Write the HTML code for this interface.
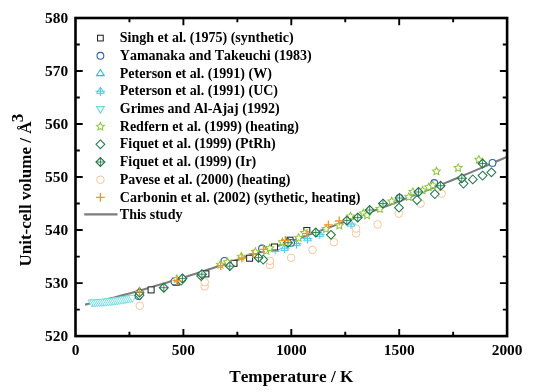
<!DOCTYPE html>
<html><head><meta charset="utf-8"><style>html,body{margin:0;padding:0;background:#fff;width:550px;height:392px;overflow:hidden}svg{display:block}</style></head>
<body>
<svg width="550" height="392" viewBox="0 0 550 392">
<rect width="550" height="392" fill="#fff"/>
<polyline points="85.1,304.62 88.64,303.8 92.18,302.97 95.72,302.12 99.25,301.26 102.79,300.38 106.33,299.5 109.87,298.6 113.41,297.68 116.95,296.76 120.49,295.82 124.03,294.87 127.56,293.91 131.1,292.94 134.64,291.96 138.18,290.97 141.72,289.97 145.26,288.96 148.8,287.93 152.33,286.9 155.87,285.86 159.41,284.81 162.95,283.76 166.49,282.69 170.03,281.61 173.57,280.53 177.11,279.44 180.64,278.34 184.18,277.24 187.72,276.13 191.26,275.01 194.8,273.88 198.34,272.75 201.88,271.61 205.41,270.46 208.95,269.31 212.49,268.15 216.03,266.99 219.57,265.82 223.11,264.64 226.65,263.46 230.18,262.28 233.72,261.09 237.26,259.89 240.8,258.7 244.34,257.49 247.88,256.28 251.42,255.07 254.96,253.85 258.49,252.63 262.03,251.4 265.57,250.17 269.11,248.94 272.65,247.7 276.19,246.46 279.73,245.21 283.26,243.97 286.8,242.71 290.34,241.46 293.88,240.2 297.42,238.93 300.96,237.67 304.5,236.4 308.04,235.12 311.57,233.85 315.11,232.57 318.65,231.28 322.19,230 325.73,228.71 329.27,227.41 332.81,226.12 336.34,224.82 339.88,223.52 343.42,222.21 346.96,220.9 350.5,219.59 354.04,218.27 357.58,216.95 361.12,215.63 364.65,214.3 368.19,212.97 371.73,211.64 375.27,210.3 378.81,208.96 382.35,207.61 385.89,206.26 389.42,204.91 392.96,203.55 396.5,202.19 400.04,200.82 403.58,199.45 407.12,198.07 410.66,196.69 414.19,195.31 417.73,193.92 421.27,192.52 424.81,191.12 428.35,189.72 431.89,188.31 435.43,186.89 438.97,185.47 442.5,184.04 446.04,182.61 449.58,181.17 453.12,179.72 456.66,178.26 460.2,176.8 463.74,175.34 467.27,173.86 470.81,172.38 474.35,170.89 477.89,169.39 481.43,167.88 484.97,166.37 488.51,164.85 492.05,163.32 495.58,161.77 499.12,160.22 502.66,158.67 506.2,157.1" fill="none" stroke="#7c7c7c" stroke-width="2.1" stroke-linejoin="round"/>
<path d="M92 307L95.9 300L88.1 300Z" fill="#fff" stroke="#6adade" stroke-width="0.9"/>
<path d="M93.83 306.93L97.73 299.93L89.93 299.93Z" fill="#fff" stroke="#6adade" stroke-width="0.9"/>
<path d="M95.66 306.85L99.56 299.85L91.76 299.85Z" fill="#fff" stroke="#6adade" stroke-width="0.9"/>
<path d="M97.49 306.75L101.39 299.75L93.59 299.75Z" fill="#fff" stroke="#6adade" stroke-width="0.9"/>
<path d="M99.32 306.64L103.22 299.64L95.42 299.64Z" fill="#fff" stroke="#6adade" stroke-width="0.9"/>
<path d="M101.15 306.51L105.05 299.51L97.25 299.51Z" fill="#fff" stroke="#6adade" stroke-width="0.9"/>
<path d="M102.98 306.37L106.88 299.37L99.08 299.37Z" fill="#fff" stroke="#6adade" stroke-width="0.9"/>
<path d="M104.81 306.22L108.71 299.22L100.91 299.22Z" fill="#fff" stroke="#6adade" stroke-width="0.9"/>
<path d="M106.64 306.05L110.54 299.05L102.74 299.05Z" fill="#fff" stroke="#6adade" stroke-width="0.9"/>
<path d="M108.47 305.87L112.37 298.87L104.57 298.87Z" fill="#fff" stroke="#6adade" stroke-width="0.9"/>
<path d="M110.3 305.68L114.2 298.68L106.4 298.68Z" fill="#fff" stroke="#6adade" stroke-width="0.9"/>
<path d="M112.13 305.47L116.03 298.47L108.23 298.47Z" fill="#fff" stroke="#6adade" stroke-width="0.9"/>
<path d="M113.96 305.25L117.86 298.25L110.06 298.25Z" fill="#fff" stroke="#6adade" stroke-width="0.9"/>
<path d="M115.79 305.01L119.69 298.01L111.89 298.01Z" fill="#fff" stroke="#6adade" stroke-width="0.9"/>
<path d="M117.62 304.76L121.52 297.76L113.72 297.76Z" fill="#fff" stroke="#6adade" stroke-width="0.9"/>
<path d="M119.45 304.5L123.35 297.5L115.55 297.5Z" fill="#fff" stroke="#6adade" stroke-width="0.9"/>
<path d="M121.28 304.22L125.18 297.22L117.38 297.22Z" fill="#fff" stroke="#6adade" stroke-width="0.9"/>
<path d="M123.11 303.93L127.01 296.93L119.21 296.93Z" fill="#fff" stroke="#6adade" stroke-width="0.9"/>
<path d="M124.94 303.63L128.84 296.63L121.04 296.63Z" fill="#fff" stroke="#6adade" stroke-width="0.9"/>
<path d="M126.77 303.31L130.67 296.31L122.87 296.31Z" fill="#fff" stroke="#6adade" stroke-width="0.9"/>
<path d="M128.6 302.98L132.5 295.98L124.7 295.98Z" fill="#fff" stroke="#6adade" stroke-width="0.9"/>
<path d="M130.43 302.63L134.33 295.63L126.53 295.63Z" fill="#fff" stroke="#6adade" stroke-width="0.9"/>
<path d="M132.26 302.27L136.16 295.27L128.36 295.27Z" fill="#fff" stroke="#6adade" stroke-width="0.9"/>
<circle cx="139.8" cy="305.8" r="3.8" fill="#fff" stroke="#f8c59c" stroke-width="1.0"/>
<circle cx="204.7" cy="286.4" r="3.8" fill="#fff" stroke="#f8c59c" stroke-width="1.0"/>
<circle cx="204.7" cy="282.2" r="3.8" fill="#fff" stroke="#f8c59c" stroke-width="1.0"/>
<circle cx="270" cy="265" r="3.8" fill="#fff" stroke="#f8c59c" stroke-width="1.0"/>
<circle cx="270" cy="260.8" r="3.8" fill="#fff" stroke="#f8c59c" stroke-width="1.0"/>
<circle cx="291.1" cy="257.7" r="3.8" fill="#fff" stroke="#f8c59c" stroke-width="1.0"/>
<circle cx="312.5" cy="249.9" r="3.8" fill="#fff" stroke="#f8c59c" stroke-width="1.0"/>
<circle cx="334" cy="242.2" r="3.8" fill="#fff" stroke="#f8c59c" stroke-width="1.0"/>
<circle cx="356.1" cy="233.4" r="3.8" fill="#fff" stroke="#f8c59c" stroke-width="1.0"/>
<circle cx="356.1" cy="228.6" r="3.8" fill="#fff" stroke="#f8c59c" stroke-width="1.0"/>
<circle cx="377.6" cy="224.4" r="3.8" fill="#fff" stroke="#f8c59c" stroke-width="1.0"/>
<circle cx="398.8" cy="213.6" r="3.8" fill="#fff" stroke="#f8c59c" stroke-width="1.0"/>
<circle cx="420.6" cy="203.6" r="3.8" fill="#fff" stroke="#f8c59c" stroke-width="1.0"/>
<circle cx="441.6" cy="193.6" r="3.8" fill="#fff" stroke="#f8c59c" stroke-width="1.0"/>
<path d="M139.5 287.3L143.4 293.4L135.6 293.4Z" fill="#fff" stroke="#1ebdee" stroke-width="1.05" stroke-linejoin="miter"/>
<path d="M263 245L266.9 251.1L259.1 251.1Z" fill="#fff" stroke="#1ebdee" stroke-width="1.05" stroke-linejoin="miter"/>
<path d="M275.2 245.5L279.1 251.6L271.3 251.6Z" fill="#fff" stroke="#45c8f2" stroke-width="1.0" stroke-linejoin="miter"/><path d="M270.3 249.5H280.1M275.2 245.5V254.4" fill="none" stroke="#45c8f2" stroke-width="1.0"/>
<path d="M284.6 244.2L288.5 250.3L280.7 250.3Z" fill="#fff" stroke="#45c8f2" stroke-width="1.0" stroke-linejoin="miter"/><path d="M279.7 248.2H289.5M284.6 244.2V253.1" fill="none" stroke="#45c8f2" stroke-width="1.0"/>
<path d="M296.5 239.6L300.4 245.7L292.6 245.7Z" fill="#fff" stroke="#45c8f2" stroke-width="1.0" stroke-linejoin="miter"/><path d="M291.6 243.6H301.4M296.5 239.6V248.5" fill="none" stroke="#45c8f2" stroke-width="1.0"/>
<path d="M307.5 234.7L311.4 240.8L303.6 240.8Z" fill="#fff" stroke="#45c8f2" stroke-width="1.0" stroke-linejoin="miter"/><path d="M302.6 238.7H312.4M307.5 234.7V243.6" fill="none" stroke="#45c8f2" stroke-width="1.0"/>
<path d="M319.8 230.2L323.7 236.3L315.9 236.3Z" fill="#fff" stroke="#45c8f2" stroke-width="1.0" stroke-linejoin="miter"/><path d="M314.9 234.2H324.7M319.8 230.2V239.1" fill="none" stroke="#45c8f2" stroke-width="1.0"/>
<path d="M351 220L354.9 226.1L347.1 226.1Z" fill="#fff" stroke="#45c8f2" stroke-width="1.0" stroke-linejoin="miter"/><path d="M346.1 224H355.9M351 220V228.9" fill="none" stroke="#45c8f2" stroke-width="1.0"/>
<rect x="148.1" y="286.9" width="6" height="6" fill="#fff" stroke="#262626" stroke-width="1.05"/>
<rect x="173.2" y="279.2" width="6" height="6" fill="#fff" stroke="#262626" stroke-width="1.05"/>
<rect x="202.9" y="270.9" width="6" height="6" fill="#fff" stroke="#262626" stroke-width="1.05"/>
<rect x="231" y="260.3" width="6" height="6" fill="#fff" stroke="#262626" stroke-width="1.05"/>
<rect x="246.6" y="255.2" width="6" height="6" fill="#fff" stroke="#262626" stroke-width="1.05"/>
<rect x="271.5" y="244" width="6" height="6" fill="#fff" stroke="#262626" stroke-width="1.05"/>
<rect x="287" y="237.2" width="6" height="6" fill="#fff" stroke="#262626" stroke-width="1.05"/>
<rect x="303.8" y="227.5" width="6" height="6" fill="#fff" stroke="#262626" stroke-width="1.05"/>
<circle cx="138.5" cy="296" r="3.4" fill="#fff" stroke="#2c5fad" stroke-width="1.05"/>
<circle cx="174.5" cy="281.4" r="3.4" fill="#fff" stroke="#2c5fad" stroke-width="1.05"/>
<circle cx="224.5" cy="260.8" r="3.4" fill="#fff" stroke="#2c5fad" stroke-width="1.05"/>
<circle cx="262" cy="248.5" r="3.4" fill="#fff" stroke="#2c5fad" stroke-width="1.05"/>
<circle cx="291" cy="242.8" r="3.4" fill="#fff" stroke="#2c5fad" stroke-width="1.05"/>
<circle cx="399.5" cy="198" r="3.4" fill="#fff" stroke="#2c5fad" stroke-width="1.05"/>
<circle cx="434.3" cy="183" r="3.4" fill="#fff" stroke="#2c5fad" stroke-width="1.05"/>
<circle cx="492.5" cy="162.9" r="3.4" fill="#fff" stroke="#2c5fad" stroke-width="1.05"/>
<polygon points="176.8,274.9 177.98,277.38 180.7,277.73 178.7,279.62 179.21,282.32 176.8,281 174.39,282.32 174.9,279.62 172.9,277.73 175.62,277.38" fill="#fff" stroke="#8cc63f" stroke-width="1.05"/>
<polygon points="220.4,260.5 221.58,262.98 224.3,263.33 222.3,265.22 222.81,267.92 220.4,266.6 217.99,267.92 218.5,265.22 216.5,263.33 219.22,262.98" fill="#fff" stroke="#8cc63f" stroke-width="1.05"/>
<polygon points="227.5,258.1 228.68,260.58 231.4,260.93 229.4,262.82 229.91,265.52 227.5,264.2 225.09,265.52 225.6,262.82 223.6,260.93 226.32,260.58" fill="#fff" stroke="#8cc63f" stroke-width="1.05"/>
<polygon points="241.3,252.5 242.48,254.98 245.2,255.33 243.2,257.22 243.71,259.92 241.3,258.6 238.89,259.92 239.4,257.22 237.4,255.33 240.12,254.98" fill="#fff" stroke="#8cc63f" stroke-width="1.05"/>
<polygon points="255.4,247.7 256.58,250.18 259.3,250.53 257.3,252.42 257.81,255.12 255.4,253.8 252.99,255.12 253.5,252.42 251.5,250.53 254.22,250.18" fill="#fff" stroke="#8cc63f" stroke-width="1.05"/>
<polygon points="266.4,246.7 267.58,249.18 270.3,249.53 268.3,251.42 268.81,254.12 266.4,252.8 263.99,254.12 264.5,251.42 262.5,249.53 265.22,249.18" fill="#fff" stroke="#8cc63f" stroke-width="1.05"/>
<polygon points="269.8,244.1 270.98,246.58 273.7,246.93 271.7,248.82 272.21,251.52 269.8,250.2 267.39,251.52 267.9,248.82 265.9,246.93 268.62,246.58" fill="#fff" stroke="#8cc63f" stroke-width="1.05"/>
<polygon points="282.4,238.1 283.58,240.58 286.3,240.93 284.3,242.82 284.81,245.52 282.4,244.2 279.99,245.52 280.5,242.82 278.5,240.93 281.22,240.58" fill="#fff" stroke="#8cc63f" stroke-width="1.05"/>
<polygon points="298.6,233.7 299.78,236.18 302.5,236.53 300.5,238.42 301.01,241.12 298.6,239.8 296.19,241.12 296.7,238.42 294.7,236.53 297.42,236.18" fill="#fff" stroke="#8cc63f" stroke-width="1.05"/>
<polygon points="304.5,228.9 305.68,231.38 308.4,231.73 306.4,233.62 306.91,236.32 304.5,235 302.09,236.32 302.6,233.62 300.6,231.73 303.32,231.38" fill="#fff" stroke="#8cc63f" stroke-width="1.05"/>
<polygon points="326,224.9 327.18,227.38 329.9,227.73 327.9,229.62 328.41,232.32 326,231 323.59,232.32 324.1,229.62 322.1,227.73 324.82,227.38" fill="#fff" stroke="#8cc63f" stroke-width="1.05"/>
<polygon points="339.3,221.4 340.48,223.88 343.2,224.23 341.2,226.12 341.71,228.82 339.3,227.5 336.89,228.82 337.4,226.12 335.4,224.23 338.12,223.88" fill="#fff" stroke="#8cc63f" stroke-width="1.05"/>
<polygon points="350.5,212.2 351.68,214.68 354.4,215.03 352.4,216.92 352.91,219.62 350.5,218.3 348.09,219.62 348.6,216.92 346.6,215.03 349.32,214.68" fill="#fff" stroke="#8cc63f" stroke-width="1.05"/>
<polygon points="363.3,209.3 364.48,211.78 367.2,212.13 365.2,214.02 365.71,216.72 363.3,215.4 360.89,216.72 361.4,214.02 359.4,212.13 362.12,211.78" fill="#fff" stroke="#8cc63f" stroke-width="1.05"/>
<polygon points="367.1,211.3 368.28,213.78 371,214.13 369,216.02 369.51,218.72 367.1,217.4 364.69,218.72 365.2,216.02 363.2,214.13 365.92,213.78" fill="#fff" stroke="#8cc63f" stroke-width="1.05"/>
<polygon points="379.9,204.9 381.08,207.38 383.8,207.73 381.8,209.62 382.31,212.32 379.9,211 377.49,212.32 378,209.62 376,207.73 378.72,207.38" fill="#fff" stroke="#8cc63f" stroke-width="1.05"/>
<polygon points="391.7,197.2 392.88,199.68 395.6,200.03 393.6,201.92 394.11,204.62 391.7,203.3 389.29,204.62 389.8,201.92 387.8,200.03 390.52,199.68" fill="#fff" stroke="#8cc63f" stroke-width="1.05"/>
<polygon points="408.8,192.9 409.98,195.38 412.7,195.73 410.7,197.62 411.21,200.32 408.8,199 406.39,200.32 406.9,197.62 404.9,195.73 407.62,195.38" fill="#fff" stroke="#8cc63f" stroke-width="1.05"/>
<polygon points="412.9,187.9 414.08,190.38 416.8,190.73 414.8,192.62 415.31,195.32 412.9,194 410.49,195.32 411,192.62 409,190.73 411.72,190.38" fill="#fff" stroke="#8cc63f" stroke-width="1.05"/>
<polygon points="422.6,186.4 423.78,188.88 426.5,189.23 424.5,191.12 425.01,193.82 422.6,192.5 420.19,193.82 420.7,191.12 418.7,189.23 421.42,188.88" fill="#fff" stroke="#8cc63f" stroke-width="1.05"/>
<polygon points="428.7,183.1 429.88,185.58 432.6,185.93 430.6,187.82 431.11,190.52 428.7,189.2 426.29,190.52 426.8,187.82 424.8,185.93 427.52,185.58" fill="#fff" stroke="#8cc63f" stroke-width="1.05"/>
<polygon points="432.8,181.3 433.98,183.78 436.7,184.13 434.7,186.02 435.21,188.72 432.8,187.4 430.39,188.72 430.9,186.02 428.9,184.13 431.62,183.78" fill="#fff" stroke="#8cc63f" stroke-width="1.05"/>
<polygon points="436.4,167.3 437.58,169.78 440.3,170.13 438.3,172.02 438.81,174.72 436.4,173.4 433.99,174.72 434.5,172.02 432.5,170.13 435.22,169.78" fill="#fff" stroke="#8cc63f" stroke-width="1.05"/>
<polygon points="458.1,163.9 459.28,166.38 462,166.73 460,168.62 460.51,171.32 458.1,170 455.69,171.32 456.2,168.62 454.2,166.73 456.92,166.38" fill="#fff" stroke="#8cc63f" stroke-width="1.05"/>
<polygon points="478.8,155.6 479.98,158.08 482.7,158.43 480.7,160.32 481.21,163.02 478.8,161.7 476.39,163.02 476.9,160.32 474.9,158.43 477.62,158.08" fill="#fff" stroke="#8cc63f" stroke-width="1.05"/>
<path d="M139.5 290.9L143.9 295.3L139.5 299.7L135.1 295.3Z" fill="#fff" stroke="#23784f" stroke-width="1.05"/>
<path d="M181.2 276.2L185.6 280.6L181.2 285L176.8 280.6Z" fill="#fff" stroke="#23784f" stroke-width="1.05"/>
<path d="M201.2 271.6L205.6 276L201.2 280.4L196.8 276Z" fill="#fff" stroke="#23784f" stroke-width="1.05"/>
<path d="M263.2 255.2L267.6 259.6L263.2 264L258.8 259.6Z" fill="#fff" stroke="#23784f" stroke-width="1.05"/>
<path d="M331 230.4L335.4 234.8L331 239.2L326.6 234.8Z" fill="#fff" stroke="#23784f" stroke-width="1.05"/>
<path d="M399 203.3L403.4 207.7L399 212.1L394.6 207.7Z" fill="#fff" stroke="#23784f" stroke-width="1.05"/>
<path d="M417 195.6L421.4 200L417 204.4L412.6 200Z" fill="#fff" stroke="#23784f" stroke-width="1.05"/>
<path d="M434.8 189.7L439.2 194.1L434.8 198.5L430.4 194.1Z" fill="#fff" stroke="#23784f" stroke-width="1.05"/>
<path d="M463.5 179.2L467.9 183.6L463.5 188L459.1 183.6Z" fill="#fff" stroke="#23784f" stroke-width="1.05"/>
<path d="M472.8 175L477.2 179.4L472.8 183.8L468.4 179.4Z" fill="#fff" stroke="#23784f" stroke-width="1.05"/>
<path d="M482.6 171.2L487 175.6L482.6 180L478.2 175.6Z" fill="#fff" stroke="#23784f" stroke-width="1.05"/>
<path d="M491.4 167.9L495.8 172.3L491.4 176.7L487 172.3Z" fill="#fff" stroke="#23784f" stroke-width="1.05"/>
<path d="M139.5 288.2L143.9 292.6L139.5 297L135.1 292.6Z" fill="#fff" stroke="#1f7548" stroke-width="1.1500000000000001"/><path d="M135.1 292.6H143.9M139.5 288.2V297" fill="none" stroke="#1f7548" stroke-width="0.85"/>
<path d="M163.8 283.3L168.2 287.7L163.8 292.1L159.4 287.7Z" fill="#fff" stroke="#1f7548" stroke-width="1.1500000000000001"/><path d="M159.4 287.7H168.2M163.8 283.3V292.1" fill="none" stroke="#1f7548" stroke-width="0.85"/>
<path d="M182.4 274L186.8 278.4L182.4 282.8L178 278.4Z" fill="#fff" stroke="#1f7548" stroke-width="1.1500000000000001"/><path d="M178 278.4H186.8M182.4 274V282.8" fill="none" stroke="#1f7548" stroke-width="0.85"/>
<path d="M201.9 269.8L206.3 274.2L201.9 278.6L197.5 274.2Z" fill="#fff" stroke="#1f7548" stroke-width="1.1500000000000001"/><path d="M197.5 274.2H206.3M201.9 269.8V278.6" fill="none" stroke="#1f7548" stroke-width="0.85"/>
<path d="M229.8 261.7L234.2 266.1L229.8 270.5L225.4 266.1Z" fill="#fff" stroke="#1f7548" stroke-width="1.1500000000000001"/><path d="M225.4 266.1H234.2M229.8 261.7V270.5" fill="none" stroke="#1f7548" stroke-width="0.85"/>
<path d="M258.5 253.3L262.9 257.7L258.5 262.1L254.1 257.7Z" fill="#fff" stroke="#1f7548" stroke-width="1.1500000000000001"/><path d="M254.1 257.7H262.9M258.5 253.3V262.1" fill="none" stroke="#1f7548" stroke-width="0.85"/>
<path d="M288 238.3L292.4 242.7L288 247.1L283.6 242.7Z" fill="#fff" stroke="#1f7548" stroke-width="1.1500000000000001"/><path d="M283.6 242.7H292.4M288 238.3V247.1" fill="none" stroke="#1f7548" stroke-width="0.85"/>
<path d="M315.8 228.1L320.2 232.5L315.8 236.9L311.4 232.5Z" fill="#fff" stroke="#1f7548" stroke-width="1.1500000000000001"/><path d="M311.4 232.5H320.2M315.8 228.1V236.9" fill="none" stroke="#1f7548" stroke-width="0.85"/>
<path d="M346.8 216.2L351.2 220.6L346.8 225L342.4 220.6Z" fill="#fff" stroke="#1f7548" stroke-width="1.1500000000000001"/><path d="M342.4 220.6H351.2M346.8 216.2V225" fill="none" stroke="#1f7548" stroke-width="0.85"/>
<path d="M357.7 213.2L362.1 217.6L357.7 222L353.3 217.6Z" fill="#fff" stroke="#1f7548" stroke-width="1.1500000000000001"/><path d="M353.3 217.6H362.1M357.7 213.2V222" fill="none" stroke="#1f7548" stroke-width="0.85"/>
<path d="M369.7 205.6L374.1 210L369.7 214.4L365.3 210Z" fill="#fff" stroke="#1f7548" stroke-width="1.1500000000000001"/><path d="M365.3 210H374.1M369.7 205.6V214.4" fill="none" stroke="#1f7548" stroke-width="0.85"/>
<path d="M383 199.2L387.4 203.6L383 208L378.6 203.6Z" fill="#fff" stroke="#1f7548" stroke-width="1.1500000000000001"/><path d="M378.6 203.6H387.4M383 199.2V208" fill="none" stroke="#1f7548" stroke-width="0.85"/>
<path d="M399.5 193.6L403.9 198L399.5 202.4L395.1 198Z" fill="#fff" stroke="#1f7548" stroke-width="1.1500000000000001"/><path d="M395.1 198H403.9M399.5 193.6V202.4" fill="none" stroke="#1f7548" stroke-width="0.85"/>
<path d="M418.5 187.6L422.9 192L418.5 196.4L414.1 192Z" fill="#fff" stroke="#1f7548" stroke-width="1.1500000000000001"/><path d="M414.1 192H422.9M418.5 187.6V196.4" fill="none" stroke="#1f7548" stroke-width="0.85"/>
<path d="M440.6 181.3L445 185.7L440.6 190.1L436.2 185.7Z" fill="#fff" stroke="#1f7548" stroke-width="1.1500000000000001"/><path d="M436.2 185.7H445M440.6 181.3V190.1" fill="none" stroke="#1f7548" stroke-width="0.85"/>
<path d="M461.8 173.8L466.2 178.2L461.8 182.6L457.4 178.2Z" fill="#fff" stroke="#1f7548" stroke-width="1.1500000000000001"/><path d="M457.4 178.2H466.2M461.8 173.8V182.6" fill="none" stroke="#1f7548" stroke-width="0.85"/>
<path d="M482.6 159.2L487 163.6L482.6 168L478.2 163.6Z" fill="#fff" stroke="#1f7548" stroke-width="1.1500000000000001"/><path d="M478.2 163.6H487M482.6 159.2V168" fill="none" stroke="#1f7548" stroke-width="0.85"/>
<path d="M135.1 291.5H143.9M139.5 287.1V295.9" fill="none" stroke="#f7941d" stroke-width="1.3"/>
<path d="M172.5 280.6H181.3M176.9 276.2V285" fill="none" stroke="#f7941d" stroke-width="1.3"/>
<path d="M216.2 265.7H225M220.6 261.3V270.1" fill="none" stroke="#f7941d" stroke-width="1.3"/>
<path d="M237.5 258H246.3M241.9 253.6V262.4" fill="none" stroke="#f7941d" stroke-width="1.3"/>
<path d="M248.6 253.6H257.4M253 249.2V258" fill="none" stroke="#f7941d" stroke-width="1.3"/>
<path d="M259.1 249.3H267.9M263.5 244.9V253.7" fill="none" stroke="#f7941d" stroke-width="1.3"/>
<path d="M280.9 240.5H289.7M285.3 236.1V244.9" fill="none" stroke="#f7941d" stroke-width="1.3"/>
<path d="M302.6 233.3H311.4M307 228.9V237.7" fill="none" stroke="#f7941d" stroke-width="1.3"/>
<path d="M324 224.8H332.8M328.4 220.4V229.2" fill="none" stroke="#f7941d" stroke-width="1.3"/>
<path d="M334.9 221H343.7M339.3 216.6V225.4" fill="none" stroke="#f7941d" stroke-width="1.3"/>
<rect x="75.5" y="18.0" width="431.6" height="318.1" fill="none" stroke="#000" stroke-width="2.6"/>
<path d="M129.45 336.1V331.8M129.45 18V22.3M183.4 336.1V328.9M183.4 18V25.2M237.35 336.1V331.8M237.35 18V22.3M291.3 336.1V328.9M291.3 18V25.2M345.25 336.1V331.8M345.25 18V22.3M399.2 336.1V328.9M399.2 18V25.2M453.15 336.1V331.8M453.15 18V22.3M75.5 309.59H79.8M507.1 309.59H502.8M75.5 283.08H82.7M507.1 283.08H499.9M75.5 256.58H79.8M507.1 256.58H502.8M75.5 230.07H82.7M507.1 230.07H499.9M75.5 203.56H79.8M507.1 203.56H502.8M75.5 177.05H82.7M507.1 177.05H499.9M75.5 150.54H79.8M507.1 150.54H502.8M75.5 124.03H82.7M507.1 124.03H499.9M75.5 97.53H79.8M507.1 97.53H502.8M75.5 71.02H82.7M507.1 71.02H499.9M75.5 44.51H79.8M507.1 44.51H502.8" stroke="#000" stroke-width="1.9" fill="none"/>
<text x="75.5" y="354.8" text-anchor="middle" style="font-family:'Liberation Serif',serif;font-weight:bold;font-kerning:none;font-size:15.4px">0</text>
<text x="183.4" y="354.8" text-anchor="middle" style="font-family:'Liberation Serif',serif;font-weight:bold;font-kerning:none;font-size:15.4px">500</text>
<text x="291.3" y="354.8" text-anchor="middle" style="font-family:'Liberation Serif',serif;font-weight:bold;font-kerning:none;font-size:15.4px">1000</text>
<text x="399.2" y="354.8" text-anchor="middle" style="font-family:'Liberation Serif',serif;font-weight:bold;font-kerning:none;font-size:15.4px">1500</text>
<text x="507.1" y="354.8" text-anchor="middle" style="font-family:'Liberation Serif',serif;font-weight:bold;font-kerning:none;font-size:15.4px">2000</text>
<text x="68.2" y="341.1" text-anchor="end" style="font-family:'Liberation Serif',serif;font-weight:bold;font-kerning:none;font-size:15.4px">520</text>
<text x="68.2" y="288.08" text-anchor="end" style="font-family:'Liberation Serif',serif;font-weight:bold;font-kerning:none;font-size:15.4px">530</text>
<text x="68.2" y="235.07" text-anchor="end" style="font-family:'Liberation Serif',serif;font-weight:bold;font-kerning:none;font-size:15.4px">540</text>
<text x="68.2" y="182.05" text-anchor="end" style="font-family:'Liberation Serif',serif;font-weight:bold;font-kerning:none;font-size:15.4px">550</text>
<text x="68.2" y="129.03" text-anchor="end" style="font-family:'Liberation Serif',serif;font-weight:bold;font-kerning:none;font-size:15.4px">560</text>
<text x="68.2" y="76.02" text-anchor="end" style="font-family:'Liberation Serif',serif;font-weight:bold;font-kerning:none;font-size:15.4px">570</text>
<text x="68.2" y="23" text-anchor="end" style="font-family:'Liberation Serif',serif;font-weight:bold;font-kerning:none;font-size:15.4px">580</text>
<text x="291.3" y="381.9" text-anchor="middle" style="font-family:'Liberation Serif',serif;font-weight:bold;font-kerning:none;font-size:17.2px">Temperature / K</text>
<text transform="translate(31 266.5) rotate(-90)" x="0" y="0" style="font-family:'Liberation Serif',serif;font-weight:bold;font-kerning:none;font-size:17px">Unit-cell volume / Å<tspan dx="-0.6" dy="-8.1">3</tspan></text>
<rect x="97.55" y="35.25" width="5.7" height="5.7" fill="#fff" stroke="#262626" stroke-width="1.05"/>
<text x="119.8" y="42.2" style="font-family:'Liberation Serif',serif;font-weight:bold;font-kerning:none;font-size:14px">Singh et al. (1975) (synthetic)</text>
<circle cx="100.4" cy="55.8" r="3.4" fill="#fff" stroke="#2c5fad" stroke-width="1.05"/>
<text x="119.8" y="59.9" style="font-family:'Liberation Serif',serif;font-weight:bold;font-kerning:none;font-size:14px">Yamanaka and Takeuchi (1983)</text>
<path d="M100.4 69.5L104.3 75.6L96.5 75.6Z" fill="#fff" stroke="#1ebdee" stroke-width="1.05" stroke-linejoin="miter"/>
<text x="119.8" y="77.6" style="font-family:'Liberation Serif',serif;font-weight:bold;font-kerning:none;font-size:14px">Peterson et al. (1991) (W)</text>
<path d="M100.4 87.2L104.3 93.3L96.5 93.3Z" fill="#fff" stroke="#45c8f2" stroke-width="1.0" stroke-linejoin="miter"/><path d="M95.5 91.2H105.3M100.4 87.2V96.1" fill="none" stroke="#45c8f2" stroke-width="1.0"/>
<text x="119.8" y="95.3" style="font-family:'Liberation Serif',serif;font-weight:bold;font-kerning:none;font-size:14px">Peterson et al. (1991) (UC)</text>
<path d="M100.4 113.1L104.3 106.6L96.5 106.6Z" fill="#fff" stroke="#6adade" stroke-width="1.1"/>
<text x="119.8" y="113" style="font-family:'Liberation Serif',serif;font-weight:bold;font-kerning:none;font-size:14px">Grimes and Al-Ajaj (1992)</text>
<polygon points="100.4,122.5 101.58,124.98 104.3,125.33 102.3,127.22 102.81,129.92 100.4,128.6 97.99,129.92 98.5,127.22 96.5,125.33 99.22,124.98" fill="#fff" stroke="#8cc63f" stroke-width="1.05"/>
<text x="119.8" y="130.7" style="font-family:'Liberation Serif',serif;font-weight:bold;font-kerning:none;font-size:14px">Redfern et al. (1999) (heating)</text>
<path d="M100.4 139.9L104.8 144.3L100.4 148.7L96 144.3Z" fill="#fff" stroke="#23784f" stroke-width="1.05"/>
<text x="119.8" y="148.4" style="font-family:'Liberation Serif',serif;font-weight:bold;font-kerning:none;font-size:14px">Fiquet et al. (1999) (PtRh)</text>
<path d="M100.4 157.6L104.8 162L100.4 166.4L96 162Z" fill="#fff" stroke="#1f7548" stroke-width="1.1500000000000001"/><path d="M96 162H104.8M100.4 157.6V166.4" fill="none" stroke="#1f7548" stroke-width="0.85"/>
<text x="119.8" y="166.1" style="font-family:'Liberation Serif',serif;font-weight:bold;font-kerning:none;font-size:14px">Fiquet et al. (1999) (Ir)</text>
<circle cx="100.4" cy="179.7" r="3.8" fill="#fff" stroke="#f8c59c" stroke-width="1.0"/>
<text x="119.8" y="183.8" style="font-family:'Liberation Serif',serif;font-weight:bold;font-kerning:none;font-size:14px">Pavese et al. (2000) (heating)</text>
<path d="M96 197.4H104.8M100.4 193V201.8" fill="none" stroke="#f7941d" stroke-width="1.3"/>
<text x="119.8" y="201.5" style="font-family:'Liberation Serif',serif;font-weight:bold;font-kerning:none;font-size:14px">Carbonin et al. (2002) (sythetic, heating)</text>
<path d="M84.2 214.3H117.5" stroke="#7c7c7c" stroke-width="2.2"/>
<text x="119.8" y="219.2" style="font-family:'Liberation Serif',serif;font-weight:bold;font-kerning:none;font-size:14px">This study</text>
</svg>
</body></html>
